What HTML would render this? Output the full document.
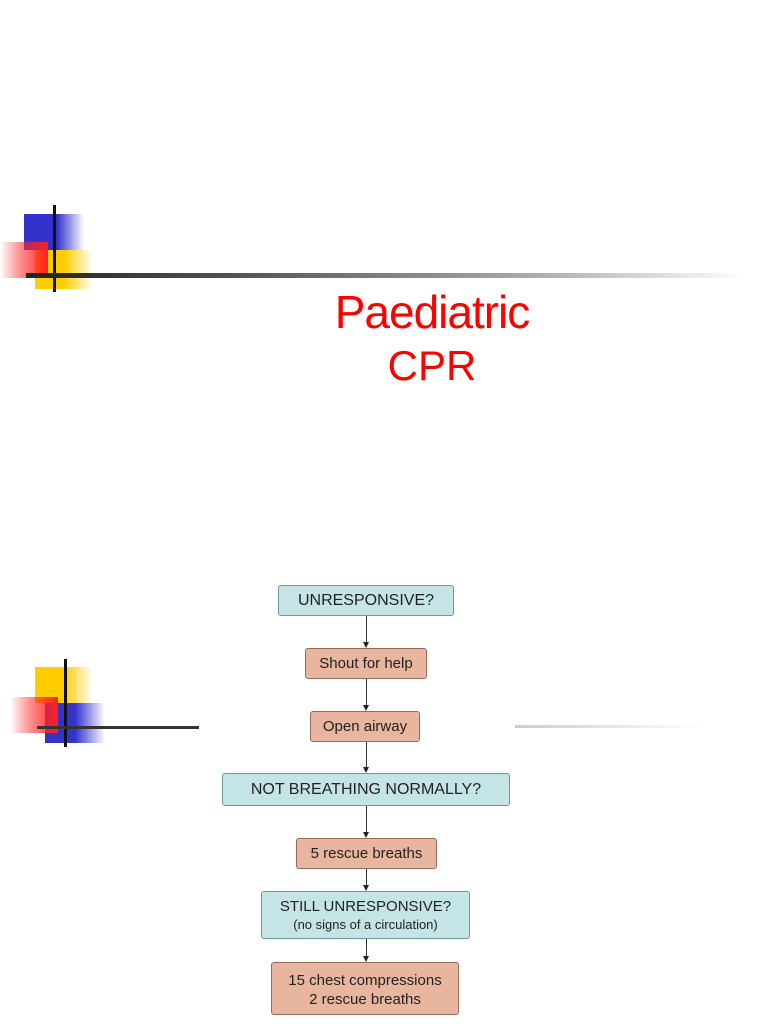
<!DOCTYPE html>
<html><head><meta charset="utf-8"><style>
body{margin:0;width:768px;height:1024px;background:#fff;position:relative;overflow:hidden;font-family:"Liberation Sans",sans-serif}
div{position:absolute;box-sizing:border-box}
.b{background:#c5e4e6;border:1.5px solid #6a9a9c;border-radius:3px;color:#222;text-align:center;font-size:15px}
.s{background:#e8b69f;border:1.5px solid #9a6a58;border-radius:3px;color:#222;text-align:center;font-size:15px}
.v{background:#333;width:1px;left:366px}
.a{width:0;height:0;border-left:3px solid transparent;border-right:3px solid transparent;border-top:6px solid #222;left:363px}
</style></head><body>
<div style="left:24px;top:214px;width:60px;height:36px;background:linear-gradient(to right,#3333cc 55%,rgba(51,51,204,0))"></div>
<div style="left:35px;top:250px;width:58px;height:39px;background:linear-gradient(to right,#ffcc00 50%,rgba(255,204,0,0))"></div>
<div style="left:0;top:242px;width:48px;height:36px;background:linear-gradient(to right,rgba(255,0,0,0),rgba(255,40,40,.5) 40%,#ff2020)"></div>
<div style="left:53px;top:205px;width:3px;height:87px;background:#111"></div>
<div style="left:26px;top:273px;width:720px;height:5px;background:linear-gradient(to right,#222,#555 30%,#aaa 70%,rgba(255,255,255,0))"></div>
<div style="left:0;top:289px;width:768px;text-align:center;padding-left:96px;color:#ff0000;font-size:46px;line-height:46px;letter-spacing:-1px">Paediatric</div>
<div style="left:0;top:345px;width:768px;text-align:center;padding-left:96px;color:#ff0000;font-size:42px;line-height:42px">CPR</div>
<div style="left:35px;top:667px;width:58px;height:36px;background:linear-gradient(to right,#ffcc00 50%,rgba(255,204,0,0))"></div>
<div style="left:45px;top:703px;width:60px;height:40px;background:linear-gradient(to right,#3333cc 50%,rgba(51,51,204,0))"></div>
<div style="left:10px;top:697px;width:48px;height:36px;background:linear-gradient(to right,rgba(255,0,0,0),rgba(255,40,40,.5) 40%,#ff2020)"></div>
<div style="left:64px;top:659px;width:3px;height:88px;background:#111"></div>
<div style="left:37px;top:726px;width:162px;height:3px;background:#333"></div>
<div style="left:515px;top:725px;width:190px;height:3px;background:linear-gradient(to right,#ccc,rgba(255,255,255,0))"></div>
<div class="b" style="left:278px;top:585px;width:176px;height:31px;line-height:30px;font-size:16px">UNRESPONSIVE?</div>
<div class="v" style="top:616px;height:26px"></div><div class="a" style="top:642px"></div>
<div class="s" style="left:305px;top:648px;width:122px;height:31px;line-height:30px">Shout for help</div>
<div class="v" style="top:679px;height:26px"></div><div class="a" style="top:705px"></div>
<div class="s" style="left:310px;top:711px;width:110px;height:31px;line-height:30px">Open airway</div>
<div class="v" style="top:742px;height:25px"></div><div class="a" style="top:767px"></div>
<div class="b" style="left:222px;top:773px;width:288px;height:33px;line-height:32px;font-size:16px">NOT BREATHING NORMALLY?</div>
<div class="v" style="top:806px;height:26px"></div><div class="a" style="top:832px"></div>
<div class="s" style="left:296px;top:838px;width:141px;height:31px;line-height:30px">5 rescue breaths</div>
<div class="v" style="top:869px;height:16px"></div><div class="a" style="top:885px"></div>
<div class="b" style="left:261px;top:891px;width:209px;height:48px;padding-top:6px;line-height:18px"><span style="font-size:15px">STILL UNRESPONSIVE?</span><br><span style="font-size:13px">(no signs of a circulation)</span></div>
<div class="v" style="top:939px;height:17px"></div><div class="a" style="top:956px"></div>
<div class="s" style="left:271px;top:962px;width:188px;height:53px;padding-top:8px;line-height:19px">15 chest compressions<br>2 rescue breaths</div>
</body></html>
